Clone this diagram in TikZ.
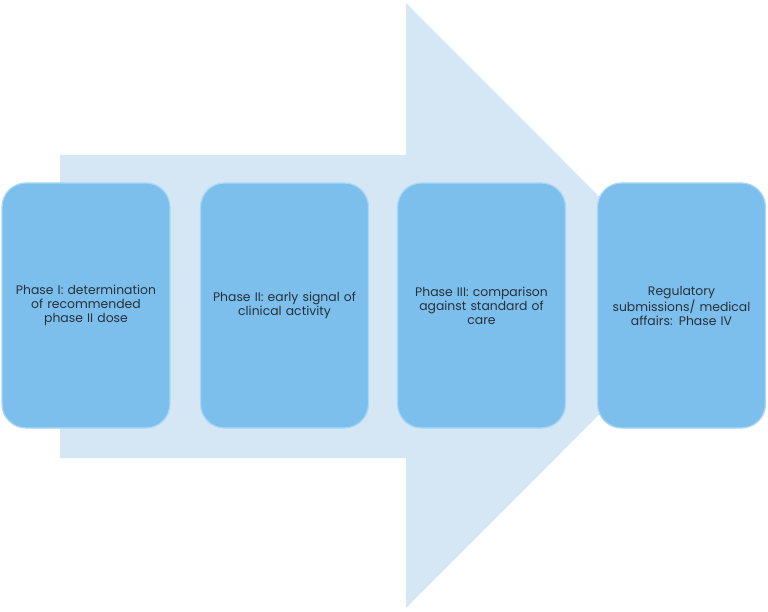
\documentclass[tikz,border=0pt]{standalone}
\usepackage{fontspec}
\setmainfont{Poppins}
\definecolor{arrowfill}{HTML}{D5E6F5}
\definecolor{boxfill}{HTML}{7DBFEC}
\definecolor{boxedge}{HTML}{A9D8F6}
\definecolor{txt}{HTML}{26303A}
\tikzset{
  phase/.style={rectangle, rounded corners=24pt, fill=boxfill, draw=boxedge, line width=1.2pt,
    minimum width=168pt, minimum height=245pt, align=center, text width=160pt,
    text=txt, font=\fontsize{12.4}{14}\selectfont, inner sep=0pt}
}
\begin{document}
\begin{tikzpicture}[x=1pt,y=-1pt]
\useasboundingbox (0,0) rectangle (768,612);
\fill[arrowfill] (60,155) -- (406,155) -- (406,3) -- (708,305.5) -- (406,608) -- (406,458) -- (60,458) -- cycle;
\node[phase] (p1) at (86,305.5) {Phase I: determination\\of recommended\\phase II dose};
\node[phase] (p2) at (284.5,305.5) {Phase II: early signal of\\clinical activity};
\node[phase] (p3) at (481.5,305.5) {Phase III: comparison\\against standard of\\care};
\node[phase] (p4) at (681.5,305.5) {Regulatory\\submissions/ medical\\affairs: Phase IV};
\end{tikzpicture}
\end{document}
